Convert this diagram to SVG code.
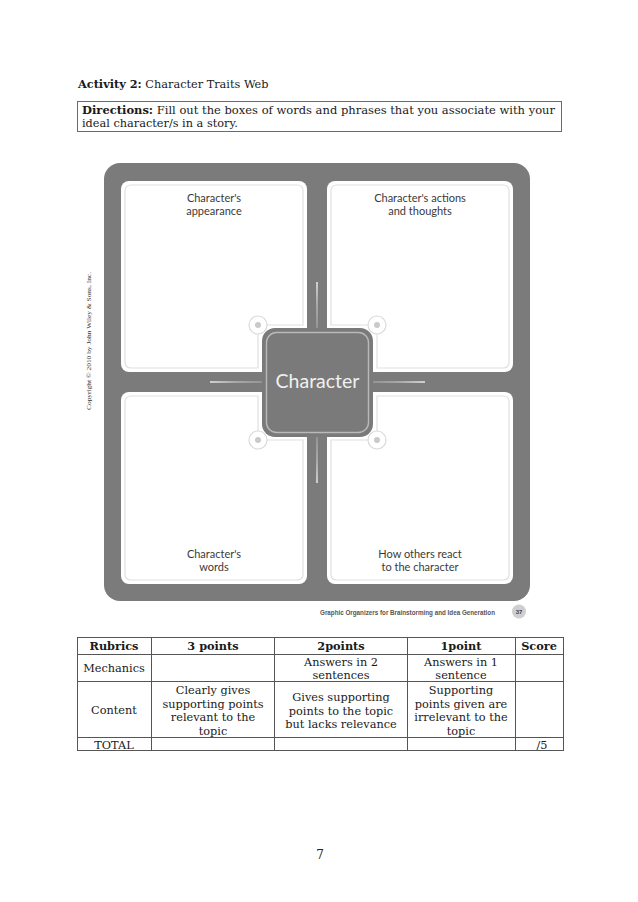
<svg xmlns="http://www.w3.org/2000/svg" width="638" height="902" viewBox="0 0 638 902">
<defs>
<style>
.serif{font-family:"DejaVu Serif","Liberation Serif",serif;font-size:11.3px;fill:#1a1a1a}
.b{font-weight:bold}
.c{text-anchor:middle}
.lab{font-family:Lato,"Liberation Sans",sans-serif;font-size:11px;fill:#3a3a3a;text-anchor:middle}
.box{fill:#fff}
.inner{fill:none;stroke:#e0e0e0;stroke-width:1.2}
.knob{fill:#fff;stroke:#dadada;stroke-width:1.2}
.dot{fill:#cacaca}
.grid{stroke:#555;stroke-width:1;fill:none}
</style>
<linearGradient id="gv" x1="0" y1="0" x2="0" y2="1"><stop offset="0" stop-color="#cfcfcf"/><stop offset="0.5" stop-color="#a8a8a8"/><stop offset="1" stop-color="#959595"/></linearGradient>
<linearGradient id="gvb" x1="0" y1="1" x2="0" y2="0"><stop offset="0" stop-color="#cfcfcf"/><stop offset="0.5" stop-color="#a8a8a8"/><stop offset="1" stop-color="#959595"/></linearGradient>
<linearGradient id="gh" x1="0" y1="0" x2="1" y2="0"><stop offset="0" stop-color="#cfcfcf"/><stop offset="0.5" stop-color="#a8a8a8"/><stop offset="1" stop-color="#959595"/></linearGradient>
<linearGradient id="ghr" x1="1" y1="0" x2="0" y2="0"><stop offset="0" stop-color="#cfcfcf"/><stop offset="0.5" stop-color="#a8a8a8"/><stop offset="1" stop-color="#959595"/></linearGradient>
</defs>
<rect width="638" height="902" fill="#fff"/>

<g id="header">
<text class="serif" x="78" y="88" font-size="11.8"><tspan class="b">Activity 2:</tspan> Character Traits Web</text>
<rect x="77.5" y="101.5" width="484" height="30" fill="none" stroke="#6a6a6a" stroke-width="1"/>
<text class="serif" x="82" y="114" textLength="473" lengthAdjust="spacingAndGlyphs"><tspan class="b">Directions:</tspan> Fill out the boxes of words and phrases that you associate with your</text>
<text class="serif" x="82" y="127">ideal character/s in a story.</text>
</g>

<g id="organizer">
<rect x="104" y="163" width="426" height="438" rx="16" fill="#7b7b7b"/>
<g id="box-appearance">
<rect class="box" x="121" y="181" width="186" height="191" rx="8"/>
<path class="inner" d="M131,185 H297 Q303,185 303,191 V325 H258 V368 H131 Q125,368 125,362 V191 Q125,185 131,185 Z"/>
<text class="lab" x="214" y="202">Character's</text>
<text class="lab" x="214" y="215">appearance</text>
</g>
<g id="box-actions">
<rect class="box" x="327" y="181" width="186" height="191" rx="8"/>
<path class="inner" d="M337,185 H503 Q509,185 509,191 V362 Q509,368 503,368 H377 V325 H331 V191 Q331,185 337,185 Z"/>
<text class="lab" x="420" y="202">Character's actions</text>
<text class="lab" x="420" y="215">and thoughts</text>
</g>
<g id="box-words">
<rect class="box" x="121" y="392" width="186" height="192" rx="8"/>
<path class="inner" d="M131,396 H258 V440 H303 V574 Q303,580 297,580 H131 Q125,580 125,574 V402 Q125,396 131,396 Z"/>
<text class="lab" x="214" y="558">Character's</text>
<text class="lab" x="214" y="571">words</text>
</g>
<g id="box-others">
<rect class="box" x="327" y="392" width="186" height="192" rx="8"/>
<path class="inner" d="M377,396 H503 Q509,396 509,402 V574 Q509,580 503,580 H337 Q331,580 331,574 V440 H377 Z"/>
<text class="lab" x="420" y="558">How others react</text>
<text class="lab" x="420" y="571">to the character</text>
</g>
<g id="knobs">
<circle class="knob" cx="258" cy="325" r="9"/><circle class="dot" cx="258" cy="325" r="3"/>
<circle class="knob" cx="377" cy="325" r="9"/><circle class="dot" cx="377" cy="325" r="3"/>
<circle class="knob" cx="258" cy="440" r="9"/><circle class="dot" cx="258" cy="440" r="3"/>
<circle class="knob" cx="377" cy="440" r="9"/><circle class="dot" cx="377" cy="440" r="3"/>
</g>
<g id="connectors">
<rect x="316" y="282" width="2" height="46" fill="url(#gv)"/>
<rect x="316" y="437" width="2" height="46" fill="url(#gvb)"/>
<rect x="210" y="381" width="52" height="2" fill="url(#gh)"/>
<rect x="373" y="381" width="52" height="2" fill="url(#ghr)"/>
</g>
<g id="center">
<rect x="262" y="328" width="111" height="109" rx="13" fill="#7a7a7a"/>
<rect x="266.5" y="332.5" width="102" height="100" rx="10" fill="none" stroke="#b9b9b9" stroke-width="1.4"/>
<text x="317.5" y="388" text-anchor="middle" font-family="Lato,'Liberation Sans',sans-serif" font-size="19.5" fill="#f0f0f0">Character</text>
</g>
<text x="91" y="341" transform="rotate(-90 91 341)" text-anchor="middle" font-family="'Liberation Serif',serif" font-size="7" fill="#333" textLength="138" lengthAdjust="spacingAndGlyphs">Copyright © 2010 by John Wiley &amp; Sons, Inc.</text>
<text x="320" y="614.5" font-family="'Liberation Sans',sans-serif" font-size="6.4" font-weight="bold" fill="#555" textLength="175" lengthAdjust="spacingAndGlyphs">Graphic Organizers for Brainstorming and Idea Generation</text>
<circle cx="519" cy="611.5" r="7" fill="#cfcfcf"/>
<text x="519" y="613.8" text-anchor="middle" font-family="'Liberation Sans',sans-serif" font-size="6" font-weight="bold" fill="#444">37</text>
</g>

<g id="rubric">
<rect class="grid" x="77.5" y="637.5" width="486" height="113"/>
<line class="grid" x1="77" y1="654.5" x2="564" y2="654.5"/>
<line class="grid" x1="77" y1="681.5" x2="564" y2="681.5"/>
<line class="grid" x1="77" y1="737.5" x2="564" y2="737.5"/>
<line class="grid" x1="151.5" y1="637" x2="151.5" y2="751"/>
<line class="grid" x1="274.5" y1="637" x2="274.5" y2="751"/>
<line class="grid" x1="407.5" y1="637" x2="407.5" y2="751"/>
<line class="grid" x1="515.5" y1="637" x2="515.5" y2="751"/>
<g class="serif c">
<text class="b" x="114" y="650">Rubrics</text>
<text class="b" x="213" y="650">3 points</text>
<text class="b" x="341" y="650">2points</text>
<text class="b" x="461" y="650">1point</text>
<text class="b" x="539" y="650">Score</text>
<text x="114" y="672">Mechanics</text>
<text x="341" y="666">Answers in 2</text>
<text x="341" y="679">sentences</text>
<text x="461" y="666">Answers in 1</text>
<text x="461" y="679">sentence</text>
<text x="114" y="714">Content</text>
<text x="213" y="694">Clearly gives</text>
<text x="213" y="707.5">supporting points</text>
<text x="213" y="721">relevant to the</text>
<text x="213" y="734.5">topic</text>
<text x="341" y="701">Gives supporting</text>
<text x="341" y="714.5">points to the topic</text>
<text x="341" y="728">but lacks relevance</text>
<text x="461" y="694">Supporting</text>
<text x="461" y="707.5">points given are</text>
<text x="461" y="721">irrelevant to the</text>
<text x="461" y="734.5">topic</text>
<text x="114" y="748.5">TOTAL</text>
<text x="542" y="748.5">/5</text>
</g>
</g>
<text x="320" y="859" text-anchor="middle" font-family="'DejaVu Serif',serif" font-size="12" fill="#222">7</text>
</svg>
